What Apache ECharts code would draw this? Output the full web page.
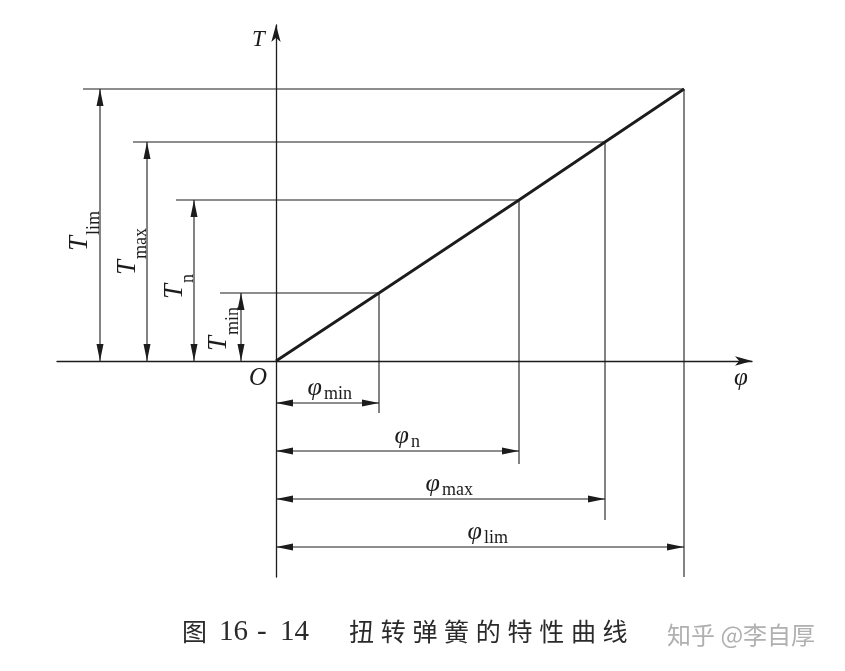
<!DOCTYPE html>
<html>
<head>
<meta charset="utf-8">
<script src="https://cdn.jsdelivr.net/npm/echarts@6/dist/echarts.min.js"></script>
<style>
  html, body { margin: 0; padding: 0; background: #fff; }
  #chart { width: 845px; height: 671px; }
</style>
</head>
<body>
<div id="chart"></div>
<script>
// 特性数据: 扭转角 φ 与扭矩 T
const pointNames = ["min", "n", "max", "lim"];
const phiValues = [1.03, 2.43, 3.29, 4.08];
const torqueValues = [0.68, 1.61, 2.19, 2.72];

// 图题
const captionChars = ["扭", "转", "弹", "簧", "的", "特", "性", "曲", "线"];

// 标注的摆放位置 (像素)
const layout = [
  { extLeft: 220, extBottom: 413, dimX: 241, dimY: 403, tX: 219, tY: 336, subDx: 14, phiX: 322 },
  { extLeft: 176, extBottom: 464, dimX: 194, dimY: 451, tX: 175, tY: 284, subDx: 13, phiX: 409 },
  { extLeft: 133, extBottom: 520, dimX: 147, dimY: 499, tX: 128, tY: 260, subDx: 13, phiX: 440 },
  { extLeft: 83, extBottom: 577, dimX: 100, dimY: 547, tX: 80, tY: 236, subDx: 14, phiX: 482 }
];

const INK = "#1c1c1c";
const SERIF = "'Liberation Serif', 'DejaVu Serif', serif";
const CJK = "'Noto Sans CJK SC', sans-serif";

const chart = echarts.init(document.getElementById("chart"));

function arrowHead(tx, ty, dx, dy) {
  const L = 17, W = 3.5;
  const nx = -dy, ny = dx;
  return {
    type: "polygon",
    shape: {
      points: [
        [tx, ty],
        [tx - dx * L + nx * W, ty - dy * L + ny * W],
        [tx - dx * L - nx * W, ty - dy * L - ny * W]
      ]
    },
    style: { fill: INK }
  };
}

function seg(x1, y1, x2, y2, w) {
  return {
    type: "line",
    shape: { x1: x1, y1: y1, x2: x2, y2: y2 },
    style: { stroke: INK, lineWidth: w || 1.1 }
  };
}

function renderItem(params, api) {
  const i = api.value(2);
  const lay = layout[i];
  const p = api.coord([api.value(0), api.value(1)]);
  const o = api.coord([0, 0]);
  const name = pointNames[i];
  const children = [
    // 引出线
    seg(lay.extLeft, p[1], p[0], p[1]),
    seg(p[0], p[1], p[0], lay.extBottom),
    // 竖向尺寸线
    seg(lay.dimX, p[1], lay.dimX, o[1]),
    arrowHead(lay.dimX, p[1], 0, -1),
    arrowHead(lay.dimX, o[1], 0, 1),
    // 横向尺寸线
    seg(o[0], lay.dimY, p[0], lay.dimY),
    arrowHead(o[0], lay.dimY, -1, 0),
    arrowHead(p[0], lay.dimY, 1, 0),
    // φ 标注
    {
      type: "text",
      x: lay.phiX,
      y: lay.dimY - 15,
      style: {
        text: "φ", font: "italic 26px " + SERIF, fill: INK,
        align: "right", verticalAlign: "middle"
      }
    },
    {
      type: "text",
      x: lay.phiX + 2,
      y: lay.dimY - 9,
      style: {
        text: name, font: "18px " + SERIF, fill: INK,
        align: "left", verticalAlign: "middle"
      }
    },
    // T 标注 (竖排)
    {
      type: "group",
      x: lay.tX,
      y: lay.tY,
      rotation: Math.PI / 2,
      children: [
        {
          type: "text",
          x: 0, y: 0,
          style: {
            text: "T", font: "italic 27px " + SERIF, fill: INK,
            align: "right", verticalAlign: "middle"
          }
        },
        {
          type: "text",
          x: 1, y: lay.subDx,
          style: {
            text: name, font: "18px " + SERIF, fill: INK,
            align: "left", verticalAlign: "middle"
          }
        }
      ]
    }
  ];
  return { type: "group", children: children };
}

const curve = [[0, 0]].concat(phiValues.map((p, i) => [p, torqueValues[i]]));

const captionY = 631;
const graphics = [
  { type: "text", left: 252, top: 28, style: { text: "T", font: "italic 23px " + SERIF, fill: INK } },
  { type: "text", left: 249, top: 366, style: { text: "O", font: "italic 25px " + SERIF, fill: INK } },
  { type: "text", left: 734, top: 366, style: { text: "φ", font: "italic 25px " + SERIF, fill: INK } },
  { type: "text", x: 182, y: captionY, style: { text: "图", font: "25px " + CJK, fill: "#2a2a2a", verticalAlign: "middle" } },
  { type: "text", x: 219, y: captionY + 1, style: { text: "16", font: "29px " + SERIF, fill: "#2a2a2a", verticalAlign: "middle" } },
  { type: "text", x: 257, y: captionY + 1, style: { text: "-", font: "29px " + SERIF, fill: "#2a2a2a", verticalAlign: "middle" } },
  { type: "text", x: 280, y: captionY + 1, style: { text: "14", font: "29px " + SERIF, fill: "#2a2a2a", verticalAlign: "middle" } },
  { type: "text", x: 667, y: captionY + 4, style: { text: "知乎 @李自厚", font: "24px " + CJK, fill: "#b0b0b0", verticalAlign: "middle" } }
];
captionChars.forEach((c, k) => {
  graphics.push({
    type: "text", x: 349 + k * 31.7, y: captionY,
    style: { text: c, font: "25px " + CJK, fill: "#2a2a2a", verticalAlign: "middle" }
  });
});

chart.setOption({
  backgroundColor: "#fff",
  animation: false,
  grid: { left: 57, right: 93, top: 25, bottom: 94 },
  xAxis: {
    type: "value",
    min: -2.19,
    max: 4.76,
    axisLine: {
      onZero: true,
      symbol: ["none", "arrow"],
      symbolSize: [7, 17],
      lineStyle: { color: INK, width: 1.3 }
    },
    axisTick: { show: false },
    axisLabel: { show: false },
    splitLine: { show: false }
  },
  yAxis: {
    type: "value",
    min: -2.16,
    max: 3.36,
    axisLine: {
      onZero: true,
      symbol: ["none", "arrow"],
      symbolSize: [7, 17],
      lineStyle: { color: INK, width: 1.3 }
    },
    axisTick: { show: false },
    axisLabel: { show: false },
    splitLine: { show: false }
  },
  graphic: graphics,
  series: [
    {
      name: "特性曲线",
      type: "line",
      data: curve,
      symbol: "none",
      lineStyle: { color: INK, width: 2.8 },
      z: 3
    },
    {
      name: "标注",
      type: "custom",
      renderItem: renderItem,
      data: phiValues.map((p, i) => [p, torqueValues[i], i]),
      z: 2
    }
  ]
});
</script>
</body>
</html>
